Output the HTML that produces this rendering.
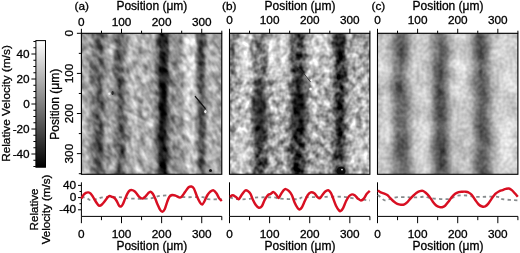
<!DOCTYPE html><html><head><meta charset="utf-8"><style>html,body{margin:0;padding:0;background:#fff;width:520px;height:253px;overflow:hidden}svg{display:block}text{fill:#000;stroke:#000;stroke-width:0.3px}</style></head><body><svg width="520" height="253" viewBox="0 0 520 253"><defs><linearGradient id="cb" x1="0" y1="0" x2="0" y2="1"><stop offset="0" stop-color="#fff"/><stop offset="1" stop-color="#000"/></linearGradient><linearGradient id="pt0" gradientUnits="userSpaceOnUse" x1="81.40" y1="0" x2="221.80" y2="0"><stop offset="0.0000" stop-color="#a1a1a1"/><stop offset="0.0071" stop-color="#a6a6a6"/><stop offset="0.0142" stop-color="#aaaaaa"/><stop offset="0.0214" stop-color="#ababab"/><stop offset="0.0285" stop-color="#a8a8a8"/><stop offset="0.0356" stop-color="#a4a4a4"/><stop offset="0.0427" stop-color="#a0a0a0"/><stop offset="0.0499" stop-color="#9b9b9b"/><stop offset="0.0570" stop-color="#949494"/><stop offset="0.0641" stop-color="#8e8e8e"/><stop offset="0.0712" stop-color="#878787"/><stop offset="0.0783" stop-color="#7f7f7f"/><stop offset="0.0855" stop-color="#777777"/><stop offset="0.0926" stop-color="#717171"/><stop offset="0.0997" stop-color="#6a6a6a"/><stop offset="0.1068" stop-color="#656565"/><stop offset="0.1140" stop-color="#626262"/><stop offset="0.1211" stop-color="#5f5f5f"/><stop offset="0.1282" stop-color="#5f5f5f"/><stop offset="0.1353" stop-color="#636363"/><stop offset="0.1425" stop-color="#686868"/><stop offset="0.1496" stop-color="#6f6f6f"/><stop offset="0.1567" stop-color="#7a7a7a"/><stop offset="0.1638" stop-color="#858585"/><stop offset="0.1709" stop-color="#8e8e8e"/><stop offset="0.1781" stop-color="#949494"/><stop offset="0.1852" stop-color="#9b9b9b"/><stop offset="0.1923" stop-color="#a1a1a1"/><stop offset="0.1994" stop-color="#a5a5a5"/><stop offset="0.2066" stop-color="#a8a8a8"/><stop offset="0.2137" stop-color="#a7a7a7"/><stop offset="0.2208" stop-color="#a1a1a1"/><stop offset="0.2279" stop-color="#9b9b9b"/><stop offset="0.2350" stop-color="#929292"/><stop offset="0.2422" stop-color="#818181"/><stop offset="0.2493" stop-color="#717171"/><stop offset="0.2564" stop-color="#616161"/><stop offset="0.2635" stop-color="#545454"/><stop offset="0.2707" stop-color="#484848"/><stop offset="0.2778" stop-color="#4c4c4c"/><stop offset="0.2849" stop-color="#525252"/><stop offset="0.2920" stop-color="#5e5e5e"/><stop offset="0.2991" stop-color="#717171"/><stop offset="0.3063" stop-color="#858585"/><stop offset="0.3134" stop-color="#959595"/><stop offset="0.3205" stop-color="#9e9e9e"/><stop offset="0.3276" stop-color="#a7a7a7"/><stop offset="0.3348" stop-color="#aeaeae"/><stop offset="0.3419" stop-color="#b6b6b6"/><stop offset="0.3490" stop-color="#b9b9b9"/><stop offset="0.3561" stop-color="#bababa"/><stop offset="0.3632" stop-color="#bababa"/><stop offset="0.3704" stop-color="#b9b9b9"/><stop offset="0.3775" stop-color="#b8b8b8"/><stop offset="0.3846" stop-color="#b6b6b6"/><stop offset="0.3917" stop-color="#b3b3b3"/><stop offset="0.3989" stop-color="#b1b1b1"/><stop offset="0.4060" stop-color="#aeaeae"/><stop offset="0.4131" stop-color="#acacac"/><stop offset="0.4202" stop-color="#aaaaaa"/><stop offset="0.4274" stop-color="#a9a9a9"/><stop offset="0.4345" stop-color="#a7a7a7"/><stop offset="0.4416" stop-color="#a8a8a8"/><stop offset="0.4487" stop-color="#a8a8a8"/><stop offset="0.4558" stop-color="#a9a9a9"/><stop offset="0.4630" stop-color="#ababab"/><stop offset="0.4701" stop-color="#adadad"/><stop offset="0.4772" stop-color="#aeaeae"/><stop offset="0.4843" stop-color="#afafaf"/><stop offset="0.4915" stop-color="#b0b0b0"/><stop offset="0.4986" stop-color="#adadad"/><stop offset="0.5057" stop-color="#ababab"/><stop offset="0.5128" stop-color="#a7a7a7"/><stop offset="0.5199" stop-color="#9d9d9d"/><stop offset="0.5271" stop-color="#8b8b8b"/><stop offset="0.5342" stop-color="#787878"/><stop offset="0.5413" stop-color="#666666"/><stop offset="0.5484" stop-color="#515151"/><stop offset="0.5556" stop-color="#383838"/><stop offset="0.5627" stop-color="#1f1f1f"/><stop offset="0.5698" stop-color="#1a1a1a"/><stop offset="0.5769" stop-color="#171717"/><stop offset="0.5840" stop-color="#171717"/><stop offset="0.5912" stop-color="#181818"/><stop offset="0.5983" stop-color="#242424"/><stop offset="0.6054" stop-color="#333333"/><stop offset="0.6125" stop-color="#484848"/><stop offset="0.6197" stop-color="#666666"/><stop offset="0.6268" stop-color="#848484"/><stop offset="0.6339" stop-color="#898989"/><stop offset="0.6410" stop-color="#8c8c8c"/><stop offset="0.6481" stop-color="#8e8e8e"/><stop offset="0.6553" stop-color="#8f8f8f"/><stop offset="0.6624" stop-color="#909090"/><stop offset="0.6695" stop-color="#929292"/><stop offset="0.6766" stop-color="#929292"/><stop offset="0.6838" stop-color="#939393"/><stop offset="0.6909" stop-color="#949494"/><stop offset="0.6980" stop-color="#959595"/><stop offset="0.7051" stop-color="#989898"/><stop offset="0.7123" stop-color="#9e9e9e"/><stop offset="0.7194" stop-color="#aeaeae"/><stop offset="0.7265" stop-color="#bdbdbd"/><stop offset="0.7336" stop-color="#c8c8c8"/><stop offset="0.7407" stop-color="#cecece"/><stop offset="0.7479" stop-color="#d3d3d3"/><stop offset="0.7550" stop-color="#d8d8d8"/><stop offset="0.7621" stop-color="#dedede"/><stop offset="0.7692" stop-color="#e0e0e0"/><stop offset="0.7764" stop-color="#dedede"/><stop offset="0.7835" stop-color="#dddddd"/><stop offset="0.7906" stop-color="#dadada"/><stop offset="0.7977" stop-color="#d6d6d6"/><stop offset="0.8048" stop-color="#c8c8c8"/><stop offset="0.8120" stop-color="#acacac"/><stop offset="0.8191" stop-color="#919191"/><stop offset="0.8262" stop-color="#7a7a7a"/><stop offset="0.8333" stop-color="#636363"/><stop offset="0.8405" stop-color="#535353"/><stop offset="0.8476" stop-color="#4c4c4c"/><stop offset="0.8547" stop-color="#4c4c4c"/><stop offset="0.8618" stop-color="#535353"/><stop offset="0.8689" stop-color="#5f5f5f"/><stop offset="0.8761" stop-color="#727272"/><stop offset="0.8832" stop-color="#878787"/><stop offset="0.8903" stop-color="#969696"/><stop offset="0.8974" stop-color="#9d9d9d"/><stop offset="0.9046" stop-color="#a2a2a2"/><stop offset="0.9117" stop-color="#a8a8a8"/><stop offset="0.9188" stop-color="#adadad"/><stop offset="0.9259" stop-color="#b1b1b1"/><stop offset="0.9330" stop-color="#b3b3b3"/><stop offset="0.9402" stop-color="#b4b4b4"/><stop offset="0.9473" stop-color="#b2b2b2"/><stop offset="0.9544" stop-color="#afafaf"/><stop offset="0.9615" stop-color="#acacac"/><stop offset="0.9687" stop-color="#a8a8a8"/><stop offset="0.9758" stop-color="#a4a4a4"/><stop offset="0.9829" stop-color="#a0a0a0"/><stop offset="0.9900" stop-color="#9e9e9e"/><stop offset="0.9972" stop-color="#9b9b9b"/></linearGradient><linearGradient id="pb0" gradientUnits="userSpaceOnUse" x1="81.40" y1="0" x2="221.80" y2="0"><stop offset="0.0000" stop-color="#a1a1a1"/><stop offset="0.0071" stop-color="#a7a7a7"/><stop offset="0.0142" stop-color="#acacac"/><stop offset="0.0214" stop-color="#b0b0b0"/><stop offset="0.0285" stop-color="#b1b1b1"/><stop offset="0.0356" stop-color="#acacac"/><stop offset="0.0427" stop-color="#a7a7a7"/><stop offset="0.0499" stop-color="#a1a1a1"/><stop offset="0.0570" stop-color="#9a9a9a"/><stop offset="0.0641" stop-color="#929292"/><stop offset="0.0712" stop-color="#898989"/><stop offset="0.0783" stop-color="#828282"/><stop offset="0.0855" stop-color="#797979"/><stop offset="0.0926" stop-color="#717171"/><stop offset="0.0997" stop-color="#6b6b6b"/><stop offset="0.1068" stop-color="#646464"/><stop offset="0.1140" stop-color="#5f5f5f"/><stop offset="0.1211" stop-color="#5d5d5d"/><stop offset="0.1282" stop-color="#5b5b5b"/><stop offset="0.1353" stop-color="#5d5d5d"/><stop offset="0.1425" stop-color="#626262"/><stop offset="0.1496" stop-color="#696969"/><stop offset="0.1567" stop-color="#727272"/><stop offset="0.1638" stop-color="#7d7d7d"/><stop offset="0.1709" stop-color="#898989"/><stop offset="0.1781" stop-color="#939393"/><stop offset="0.1852" stop-color="#999999"/><stop offset="0.1923" stop-color="#9f9f9f"/><stop offset="0.1994" stop-color="#a3a3a3"/><stop offset="0.2066" stop-color="#a4a4a4"/><stop offset="0.2137" stop-color="#a4a4a4"/><stop offset="0.2208" stop-color="#a2a2a2"/><stop offset="0.2279" stop-color="#9c9c9c"/><stop offset="0.2350" stop-color="#959595"/><stop offset="0.2422" stop-color="#8c8c8c"/><stop offset="0.2493" stop-color="#818181"/><stop offset="0.2564" stop-color="#707070"/><stop offset="0.2635" stop-color="#5e5e5e"/><stop offset="0.2707" stop-color="#515151"/><stop offset="0.2778" stop-color="#4b4b4b"/><stop offset="0.2849" stop-color="#484848"/><stop offset="0.2920" stop-color="#505050"/><stop offset="0.2991" stop-color="#5c5c5c"/><stop offset="0.3063" stop-color="#6b6b6b"/><stop offset="0.3134" stop-color="#7f7f7f"/><stop offset="0.3205" stop-color="#929292"/><stop offset="0.3276" stop-color="#a1a1a1"/><stop offset="0.3348" stop-color="#a6a6a6"/><stop offset="0.3419" stop-color="#ababab"/><stop offset="0.3490" stop-color="#afafaf"/><stop offset="0.3561" stop-color="#b1b1b1"/><stop offset="0.3632" stop-color="#b4b4b4"/><stop offset="0.3704" stop-color="#b5b5b5"/><stop offset="0.3775" stop-color="#b6b6b6"/><stop offset="0.3846" stop-color="#b5b5b5"/><stop offset="0.3917" stop-color="#b3b3b3"/><stop offset="0.3989" stop-color="#b0b0b0"/><stop offset="0.4060" stop-color="#acacac"/><stop offset="0.4131" stop-color="#aaaaaa"/><stop offset="0.4202" stop-color="#a8a8a8"/><stop offset="0.4274" stop-color="#a6a6a6"/><stop offset="0.4345" stop-color="#a5a5a5"/><stop offset="0.4416" stop-color="#a6a6a6"/><stop offset="0.4487" stop-color="#a6a6a6"/><stop offset="0.4558" stop-color="#a8a8a8"/><stop offset="0.4630" stop-color="#aaaaaa"/><stop offset="0.4701" stop-color="#adadad"/><stop offset="0.4772" stop-color="#afafaf"/><stop offset="0.4843" stop-color="#b1b1b1"/><stop offset="0.4915" stop-color="#b2b2b2"/><stop offset="0.4986" stop-color="#b1b1b1"/><stop offset="0.5057" stop-color="#acacac"/><stop offset="0.5128" stop-color="#a1a1a1"/><stop offset="0.5199" stop-color="#949494"/><stop offset="0.5271" stop-color="#888888"/><stop offset="0.5342" stop-color="#7b7b7b"/><stop offset="0.5413" stop-color="#6e6e6e"/><stop offset="0.5484" stop-color="#525252"/><stop offset="0.5556" stop-color="#363636"/><stop offset="0.5627" stop-color="#2a2a2a"/><stop offset="0.5698" stop-color="#222222"/><stop offset="0.5769" stop-color="#1a1a1a"/><stop offset="0.5840" stop-color="#1d1d1d"/><stop offset="0.5912" stop-color="#202020"/><stop offset="0.5983" stop-color="#262626"/><stop offset="0.6054" stop-color="#383838"/><stop offset="0.6125" stop-color="#4a4a4a"/><stop offset="0.6197" stop-color="#5b5b5b"/><stop offset="0.6268" stop-color="#6f6f6f"/><stop offset="0.6339" stop-color="#7f7f7f"/><stop offset="0.6410" stop-color="#909090"/><stop offset="0.6481" stop-color="#939393"/><stop offset="0.6553" stop-color="#949494"/><stop offset="0.6624" stop-color="#959595"/><stop offset="0.6695" stop-color="#969696"/><stop offset="0.6766" stop-color="#979797"/><stop offset="0.6838" stop-color="#979797"/><stop offset="0.6909" stop-color="#989898"/><stop offset="0.6980" stop-color="#999999"/><stop offset="0.7051" stop-color="#9c9c9c"/><stop offset="0.7123" stop-color="#9e9e9e"/><stop offset="0.7194" stop-color="#a2a2a2"/><stop offset="0.7265" stop-color="#a8a8a8"/><stop offset="0.7336" stop-color="#aeaeae"/><stop offset="0.7407" stop-color="#b5b5b5"/><stop offset="0.7479" stop-color="#bbbbbb"/><stop offset="0.7550" stop-color="#c2c2c2"/><stop offset="0.7621" stop-color="#c6c6c6"/><stop offset="0.7692" stop-color="#c7c7c7"/><stop offset="0.7764" stop-color="#c6c6c6"/><stop offset="0.7835" stop-color="#c6c6c6"/><stop offset="0.7906" stop-color="#c4c4c4"/><stop offset="0.7977" stop-color="#bebebe"/><stop offset="0.8048" stop-color="#b1b1b1"/><stop offset="0.8120" stop-color="#a3a3a3"/><stop offset="0.8191" stop-color="#949494"/><stop offset="0.8262" stop-color="#858585"/><stop offset="0.8333" stop-color="#747474"/><stop offset="0.8405" stop-color="#636363"/><stop offset="0.8476" stop-color="#585858"/><stop offset="0.8547" stop-color="#535353"/><stop offset="0.8618" stop-color="#505050"/><stop offset="0.8689" stop-color="#565656"/><stop offset="0.8761" stop-color="#666666"/><stop offset="0.8832" stop-color="#767676"/><stop offset="0.8903" stop-color="#858585"/><stop offset="0.8974" stop-color="#929292"/><stop offset="0.9046" stop-color="#9d9d9d"/><stop offset="0.9117" stop-color="#a8a8a8"/><stop offset="0.9188" stop-color="#b0b0b0"/><stop offset="0.9259" stop-color="#b1b1b1"/><stop offset="0.9330" stop-color="#b3b3b3"/><stop offset="0.9402" stop-color="#b4b4b4"/><stop offset="0.9473" stop-color="#b3b3b3"/><stop offset="0.9544" stop-color="#b1b1b1"/><stop offset="0.9615" stop-color="#afafaf"/><stop offset="0.9687" stop-color="#ababab"/><stop offset="0.9758" stop-color="#a7a7a7"/><stop offset="0.9829" stop-color="#a3a3a3"/><stop offset="0.9900" stop-color="#a0a0a0"/><stop offset="0.9972" stop-color="#9d9d9d"/></linearGradient><clipPath id="cp0"><rect x="81.40" y="33.30" width="140.40" height="141.00"/></clipPath><linearGradient id="pt1" gradientUnits="userSpaceOnUse" x1="229.50" y1="0" x2="369.90" y2="0"><stop offset="0.0000" stop-color="#838383"/><stop offset="0.0071" stop-color="#7b7b7b"/><stop offset="0.0142" stop-color="#7a7a7a"/><stop offset="0.0214" stop-color="#7f7f7f"/><stop offset="0.0285" stop-color="#878787"/><stop offset="0.0356" stop-color="#929292"/><stop offset="0.0427" stop-color="#9d9d9d"/><stop offset="0.0499" stop-color="#a6a6a6"/><stop offset="0.0570" stop-color="#aeaeae"/><stop offset="0.0641" stop-color="#b6b6b6"/><stop offset="0.0712" stop-color="#bebebe"/><stop offset="0.0783" stop-color="#c2c2c2"/><stop offset="0.0855" stop-color="#c6c6c6"/><stop offset="0.0926" stop-color="#cbcbcb"/><stop offset="0.0997" stop-color="#cdcdcd"/><stop offset="0.1068" stop-color="#cecece"/><stop offset="0.1140" stop-color="#cecece"/><stop offset="0.1211" stop-color="#cdcdcd"/><stop offset="0.1282" stop-color="#cacaca"/><stop offset="0.1353" stop-color="#c5c5c5"/><stop offset="0.1425" stop-color="#c0c0c0"/><stop offset="0.1496" stop-color="#bababa"/><stop offset="0.1567" stop-color="#afafaf"/><stop offset="0.1638" stop-color="#a0a0a0"/><stop offset="0.1709" stop-color="#949494"/><stop offset="0.1781" stop-color="#898989"/><stop offset="0.1852" stop-color="#7e7e7e"/><stop offset="0.1923" stop-color="#777777"/><stop offset="0.1994" stop-color="#717171"/><stop offset="0.2066" stop-color="#6d6d6d"/><stop offset="0.2137" stop-color="#6d6d6d"/><stop offset="0.2208" stop-color="#6e6e6e"/><stop offset="0.2279" stop-color="#717171"/><stop offset="0.2350" stop-color="#787878"/><stop offset="0.2422" stop-color="#808080"/><stop offset="0.2493" stop-color="#8a8a8a"/><stop offset="0.2564" stop-color="#969696"/><stop offset="0.2635" stop-color="#a2a2a2"/><stop offset="0.2707" stop-color="#acacac"/><stop offset="0.2778" stop-color="#b4b4b4"/><stop offset="0.2849" stop-color="#bbbbbb"/><stop offset="0.2920" stop-color="#c0c0c0"/><stop offset="0.2991" stop-color="#c3c3c3"/><stop offset="0.3063" stop-color="#c6c6c6"/><stop offset="0.3134" stop-color="#c8c8c8"/><stop offset="0.3205" stop-color="#c8c8c8"/><stop offset="0.3276" stop-color="#c8c8c8"/><stop offset="0.3348" stop-color="#c7c7c7"/><stop offset="0.3419" stop-color="#c4c4c4"/><stop offset="0.3490" stop-color="#c2c2c2"/><stop offset="0.3561" stop-color="#c3c3c3"/><stop offset="0.3632" stop-color="#c6c6c6"/><stop offset="0.3704" stop-color="#c8c8c8"/><stop offset="0.3775" stop-color="#cacaca"/><stop offset="0.3846" stop-color="#cacaca"/><stop offset="0.3917" stop-color="#c7c7c7"/><stop offset="0.3989" stop-color="#c5c5c5"/><stop offset="0.4060" stop-color="#c0c0c0"/><stop offset="0.4131" stop-color="#b6b6b6"/><stop offset="0.4202" stop-color="#a5a5a5"/><stop offset="0.4274" stop-color="#939393"/><stop offset="0.4345" stop-color="#818181"/><stop offset="0.4416" stop-color="#6e6e6e"/><stop offset="0.4487" stop-color="#5f5f5f"/><stop offset="0.4558" stop-color="#545454"/><stop offset="0.4630" stop-color="#494949"/><stop offset="0.4701" stop-color="#424242"/><stop offset="0.4772" stop-color="#3e3e3e"/><stop offset="0.4843" stop-color="#3a3a3a"/><stop offset="0.4915" stop-color="#383838"/><stop offset="0.4986" stop-color="#373737"/><stop offset="0.5057" stop-color="#3b3b3b"/><stop offset="0.5128" stop-color="#404040"/><stop offset="0.5199" stop-color="#4b4b4b"/><stop offset="0.5271" stop-color="#5d5d5d"/><stop offset="0.5342" stop-color="#707070"/><stop offset="0.5413" stop-color="#818181"/><stop offset="0.5484" stop-color="#919191"/><stop offset="0.5556" stop-color="#a1a1a1"/><stop offset="0.5627" stop-color="#b0b0b0"/><stop offset="0.5698" stop-color="#b9b9b9"/><stop offset="0.5769" stop-color="#bdbdbd"/><stop offset="0.5840" stop-color="#bfbfbf"/><stop offset="0.5912" stop-color="#c0c0c0"/><stop offset="0.5983" stop-color="#c2c2c2"/><stop offset="0.6054" stop-color="#c3c3c3"/><stop offset="0.6125" stop-color="#c2c2c2"/><stop offset="0.6197" stop-color="#bfbfbf"/><stop offset="0.6268" stop-color="#bdbdbd"/><stop offset="0.6339" stop-color="#bcbcbc"/><stop offset="0.6410" stop-color="#bababa"/><stop offset="0.6481" stop-color="#bbbbbb"/><stop offset="0.6553" stop-color="#bcbcbc"/><stop offset="0.6624" stop-color="#bdbdbd"/><stop offset="0.6695" stop-color="#bebebe"/><stop offset="0.6766" stop-color="#bfbfbf"/><stop offset="0.6838" stop-color="#bfbfbf"/><stop offset="0.6909" stop-color="#bebebe"/><stop offset="0.6980" stop-color="#bebebe"/><stop offset="0.7051" stop-color="#bbbbbb"/><stop offset="0.7123" stop-color="#b4b4b4"/><stop offset="0.7194" stop-color="#adadad"/><stop offset="0.7265" stop-color="#a5a5a5"/><stop offset="0.7336" stop-color="#969696"/><stop offset="0.7407" stop-color="#808080"/><stop offset="0.7479" stop-color="#6a6a6a"/><stop offset="0.7550" stop-color="#555555"/><stop offset="0.7621" stop-color="#404040"/><stop offset="0.7692" stop-color="#323232"/><stop offset="0.7764" stop-color="#2a2a2a"/><stop offset="0.7835" stop-color="#232323"/><stop offset="0.7906" stop-color="#212121"/><stop offset="0.7977" stop-color="#252525"/><stop offset="0.8048" stop-color="#2a2a2a"/><stop offset="0.8120" stop-color="#373737"/><stop offset="0.8191" stop-color="#4c4c4c"/><stop offset="0.8262" stop-color="#626262"/><stop offset="0.8333" stop-color="#757575"/><stop offset="0.8405" stop-color="#888888"/><stop offset="0.8476" stop-color="#9a9a9a"/><stop offset="0.8547" stop-color="#a6a6a6"/><stop offset="0.8618" stop-color="#aaaaaa"/><stop offset="0.8689" stop-color="#afafaf"/><stop offset="0.8761" stop-color="#b2b2b2"/><stop offset="0.8832" stop-color="#b5b5b5"/><stop offset="0.8903" stop-color="#b7b7b7"/><stop offset="0.8974" stop-color="#b8b8b8"/><stop offset="0.9046" stop-color="#b5b5b5"/><stop offset="0.9117" stop-color="#b3b3b3"/><stop offset="0.9188" stop-color="#b1b1b1"/><stop offset="0.9259" stop-color="#b0b0b0"/><stop offset="0.9330" stop-color="#aeaeae"/><stop offset="0.9402" stop-color="#aeaeae"/><stop offset="0.9473" stop-color="#acacac"/><stop offset="0.9544" stop-color="#a7a7a7"/><stop offset="0.9615" stop-color="#a3a3a3"/><stop offset="0.9687" stop-color="#9f9f9f"/><stop offset="0.9758" stop-color="#9d9d9d"/><stop offset="0.9829" stop-color="#9b9b9b"/><stop offset="0.9900" stop-color="#989898"/><stop offset="0.9972" stop-color="#969696"/></linearGradient><linearGradient id="pb1" gradientUnits="userSpaceOnUse" x1="229.50" y1="0" x2="369.90" y2="0"><stop offset="0.0000" stop-color="#a7a7a7"/><stop offset="0.0071" stop-color="#aaaaaa"/><stop offset="0.0142" stop-color="#aeaeae"/><stop offset="0.0214" stop-color="#b2b2b2"/><stop offset="0.0285" stop-color="#b4b4b4"/><stop offset="0.0356" stop-color="#b6b6b6"/><stop offset="0.0427" stop-color="#b8b8b8"/><stop offset="0.0499" stop-color="#bababa"/><stop offset="0.0570" stop-color="#bbbbbb"/><stop offset="0.0641" stop-color="#bbbbbb"/><stop offset="0.0712" stop-color="#bcbcbc"/><stop offset="0.0783" stop-color="#bebebe"/><stop offset="0.0855" stop-color="#bfbfbf"/><stop offset="0.0926" stop-color="#c1c1c1"/><stop offset="0.0997" stop-color="#c2c2c2"/><stop offset="0.1068" stop-color="#c2c2c2"/><stop offset="0.1140" stop-color="#c1c1c1"/><stop offset="0.1211" stop-color="#bfbfbf"/><stop offset="0.1282" stop-color="#bcbcbc"/><stop offset="0.1353" stop-color="#b8b8b8"/><stop offset="0.1425" stop-color="#b0b0b0"/><stop offset="0.1496" stop-color="#a2a2a2"/><stop offset="0.1567" stop-color="#929292"/><stop offset="0.1638" stop-color="#828282"/><stop offset="0.1709" stop-color="#727272"/><stop offset="0.1781" stop-color="#636363"/><stop offset="0.1852" stop-color="#575757"/><stop offset="0.1923" stop-color="#505050"/><stop offset="0.1994" stop-color="#494949"/><stop offset="0.2066" stop-color="#454545"/><stop offset="0.2137" stop-color="#444444"/><stop offset="0.2208" stop-color="#444444"/><stop offset="0.2279" stop-color="#464646"/><stop offset="0.2350" stop-color="#4d4d4d"/><stop offset="0.2422" stop-color="#545454"/><stop offset="0.2493" stop-color="#5d5d5d"/><stop offset="0.2564" stop-color="#686868"/><stop offset="0.2635" stop-color="#727272"/><stop offset="0.2707" stop-color="#7e7e7e"/><stop offset="0.2778" stop-color="#8a8a8a"/><stop offset="0.2849" stop-color="#959595"/><stop offset="0.2920" stop-color="#9d9d9d"/><stop offset="0.2991" stop-color="#a0a0a0"/><stop offset="0.3063" stop-color="#a2a2a2"/><stop offset="0.3134" stop-color="#a5a5a5"/><stop offset="0.3205" stop-color="#a6a6a6"/><stop offset="0.3276" stop-color="#a6a6a6"/><stop offset="0.3348" stop-color="#a6a6a6"/><stop offset="0.3419" stop-color="#a3a3a3"/><stop offset="0.3490" stop-color="#a1a1a1"/><stop offset="0.3561" stop-color="#a2a2a2"/><stop offset="0.3632" stop-color="#a5a5a5"/><stop offset="0.3704" stop-color="#a7a7a7"/><stop offset="0.3775" stop-color="#aaaaaa"/><stop offset="0.3846" stop-color="#aaaaaa"/><stop offset="0.3917" stop-color="#a6a6a6"/><stop offset="0.3989" stop-color="#a2a2a2"/><stop offset="0.4060" stop-color="#989898"/><stop offset="0.4131" stop-color="#8a8a8a"/><stop offset="0.4202" stop-color="#7b7b7b"/><stop offset="0.4274" stop-color="#6e6e6e"/><stop offset="0.4345" stop-color="#616161"/><stop offset="0.4416" stop-color="#545454"/><stop offset="0.4487" stop-color="#484848"/><stop offset="0.4558" stop-color="#3f3f3f"/><stop offset="0.4630" stop-color="#363636"/><stop offset="0.4701" stop-color="#303030"/><stop offset="0.4772" stop-color="#2d2d2d"/><stop offset="0.4843" stop-color="#2a2a2a"/><stop offset="0.4915" stop-color="#292929"/><stop offset="0.4986" stop-color="#2a2a2a"/><stop offset="0.5057" stop-color="#303030"/><stop offset="0.5128" stop-color="#363636"/><stop offset="0.5199" stop-color="#434343"/><stop offset="0.5271" stop-color="#555555"/><stop offset="0.5342" stop-color="#686868"/><stop offset="0.5413" stop-color="#767676"/><stop offset="0.5484" stop-color="#808080"/><stop offset="0.5556" stop-color="#8b8b8b"/><stop offset="0.5627" stop-color="#949494"/><stop offset="0.5698" stop-color="#9d9d9d"/><stop offset="0.5769" stop-color="#a2a2a2"/><stop offset="0.5840" stop-color="#a2a2a2"/><stop offset="0.5912" stop-color="#a2a2a2"/><stop offset="0.5983" stop-color="#a3a3a3"/><stop offset="0.6054" stop-color="#a2a2a2"/><stop offset="0.6125" stop-color="#a1a1a1"/><stop offset="0.6197" stop-color="#9f9f9f"/><stop offset="0.6268" stop-color="#9e9e9e"/><stop offset="0.6339" stop-color="#9d9d9d"/><stop offset="0.6410" stop-color="#9c9c9c"/><stop offset="0.6481" stop-color="#9c9c9c"/><stop offset="0.6553" stop-color="#9e9e9e"/><stop offset="0.6624" stop-color="#a0a0a0"/><stop offset="0.6695" stop-color="#a1a1a1"/><stop offset="0.6766" stop-color="#a3a3a3"/><stop offset="0.6838" stop-color="#a4a4a4"/><stop offset="0.6909" stop-color="#a3a3a3"/><stop offset="0.6980" stop-color="#a1a1a1"/><stop offset="0.7051" stop-color="#9f9f9f"/><stop offset="0.7123" stop-color="#9b9b9b"/><stop offset="0.7194" stop-color="#979797"/><stop offset="0.7265" stop-color="#8e8e8e"/><stop offset="0.7336" stop-color="#818181"/><stop offset="0.7407" stop-color="#737373"/><stop offset="0.7479" stop-color="#656565"/><stop offset="0.7550" stop-color="#565656"/><stop offset="0.7621" stop-color="#474747"/><stop offset="0.7692" stop-color="#404040"/><stop offset="0.7764" stop-color="#383838"/><stop offset="0.7835" stop-color="#353535"/><stop offset="0.7906" stop-color="#363636"/><stop offset="0.7977" stop-color="#393939"/><stop offset="0.8048" stop-color="#464646"/><stop offset="0.8120" stop-color="#545454"/><stop offset="0.8191" stop-color="#666666"/><stop offset="0.8262" stop-color="#7a7a7a"/><stop offset="0.8333" stop-color="#8d8d8d"/><stop offset="0.8405" stop-color="#989898"/><stop offset="0.8476" stop-color="#a2a2a2"/><stop offset="0.8547" stop-color="#acacac"/><stop offset="0.8618" stop-color="#b2b2b2"/><stop offset="0.8689" stop-color="#b5b5b5"/><stop offset="0.8761" stop-color="#b7b7b7"/><stop offset="0.8832" stop-color="#b9b9b9"/><stop offset="0.8903" stop-color="#bababa"/><stop offset="0.8974" stop-color="#bbbbbb"/><stop offset="0.9046" stop-color="#bababa"/><stop offset="0.9117" stop-color="#b9b9b9"/><stop offset="0.9188" stop-color="#b9b9b9"/><stop offset="0.9259" stop-color="#b8b8b8"/><stop offset="0.9330" stop-color="#b8b8b8"/><stop offset="0.9402" stop-color="#b9b9b9"/><stop offset="0.9473" stop-color="#bababa"/><stop offset="0.9544" stop-color="#bbbbbb"/><stop offset="0.9615" stop-color="#bcbcbc"/><stop offset="0.9687" stop-color="#bebebe"/><stop offset="0.9758" stop-color="#bfbfbf"/><stop offset="0.9829" stop-color="#c0c0c0"/><stop offset="0.9900" stop-color="#c0c0c0"/><stop offset="0.9972" stop-color="#c1c1c1"/></linearGradient><clipPath id="cp1"><rect x="229.50" y="33.30" width="140.40" height="141.00"/></clipPath><linearGradient id="pt2" gradientUnits="userSpaceOnUse" x1="377.50" y1="0" x2="517.90" y2="0"><stop offset="0.0000" stop-color="#cccccc"/><stop offset="0.0071" stop-color="#cccccc"/><stop offset="0.0142" stop-color="#cccccc"/><stop offset="0.0214" stop-color="#cbcbcb"/><stop offset="0.0285" stop-color="#cbcbcb"/><stop offset="0.0356" stop-color="#cbcbcb"/><stop offset="0.0427" stop-color="#cbcbcb"/><stop offset="0.0499" stop-color="#cbcbcb"/><stop offset="0.0570" stop-color="#c8c8c8"/><stop offset="0.0641" stop-color="#c4c4c4"/><stop offset="0.0712" stop-color="#bfbfbf"/><stop offset="0.0783" stop-color="#bababa"/><stop offset="0.0855" stop-color="#b6b6b6"/><stop offset="0.0926" stop-color="#aeaeae"/><stop offset="0.0997" stop-color="#a4a4a4"/><stop offset="0.1068" stop-color="#999999"/><stop offset="0.1140" stop-color="#8f8f8f"/><stop offset="0.1211" stop-color="#868686"/><stop offset="0.1282" stop-color="#7e7e7e"/><stop offset="0.1353" stop-color="#767676"/><stop offset="0.1425" stop-color="#6e6e6e"/><stop offset="0.1496" stop-color="#696969"/><stop offset="0.1567" stop-color="#656565"/><stop offset="0.1638" stop-color="#626262"/><stop offset="0.1709" stop-color="#626262"/><stop offset="0.1781" stop-color="#656565"/><stop offset="0.1852" stop-color="#696969"/><stop offset="0.1923" stop-color="#6f6f6f"/><stop offset="0.1994" stop-color="#7a7a7a"/><stop offset="0.2066" stop-color="#848484"/><stop offset="0.2137" stop-color="#8e8e8e"/><stop offset="0.2208" stop-color="#989898"/><stop offset="0.2279" stop-color="#a2a2a2"/><stop offset="0.2350" stop-color="#ababab"/><stop offset="0.2422" stop-color="#b5b5b5"/><stop offset="0.2493" stop-color="#bebebe"/><stop offset="0.2564" stop-color="#c4c4c4"/><stop offset="0.2635" stop-color="#c6c6c6"/><stop offset="0.2707" stop-color="#c8c8c8"/><stop offset="0.2778" stop-color="#cacaca"/><stop offset="0.2849" stop-color="#cccccc"/><stop offset="0.2920" stop-color="#cecece"/><stop offset="0.2991" stop-color="#d0d0d0"/><stop offset="0.3063" stop-color="#d0d0d0"/><stop offset="0.3134" stop-color="#cfcfcf"/><stop offset="0.3205" stop-color="#cecece"/><stop offset="0.3276" stop-color="#cdcdcd"/><stop offset="0.3348" stop-color="#cccccc"/><stop offset="0.3419" stop-color="#cbcbcb"/><stop offset="0.3490" stop-color="#c9c9c9"/><stop offset="0.3561" stop-color="#c5c5c5"/><stop offset="0.3632" stop-color="#bebebe"/><stop offset="0.3704" stop-color="#b7b7b7"/><stop offset="0.3775" stop-color="#b0b0b0"/><stop offset="0.3846" stop-color="#a6a6a6"/><stop offset="0.3917" stop-color="#999999"/><stop offset="0.3989" stop-color="#8d8d8d"/><stop offset="0.4060" stop-color="#818181"/><stop offset="0.4131" stop-color="#777777"/><stop offset="0.4202" stop-color="#707070"/><stop offset="0.4274" stop-color="#696969"/><stop offset="0.4345" stop-color="#626262"/><stop offset="0.4416" stop-color="#5f5f5f"/><stop offset="0.4487" stop-color="#606060"/><stop offset="0.4558" stop-color="#616161"/><stop offset="0.4630" stop-color="#656565"/><stop offset="0.4701" stop-color="#6c6c6c"/><stop offset="0.4772" stop-color="#747474"/><stop offset="0.4843" stop-color="#7b7b7b"/><stop offset="0.4915" stop-color="#858585"/><stop offset="0.4986" stop-color="#919191"/><stop offset="0.5057" stop-color="#9d9d9d"/><stop offset="0.5128" stop-color="#a9a9a9"/><stop offset="0.5199" stop-color="#b1b1b1"/><stop offset="0.5271" stop-color="#b6b6b6"/><stop offset="0.5342" stop-color="#bbbbbb"/><stop offset="0.5413" stop-color="#c0c0c0"/><stop offset="0.5484" stop-color="#c5c5c5"/><stop offset="0.5556" stop-color="#cacaca"/><stop offset="0.5627" stop-color="#cccccc"/><stop offset="0.5698" stop-color="#cccccc"/><stop offset="0.5769" stop-color="#cdcdcd"/><stop offset="0.5840" stop-color="#cdcdcd"/><stop offset="0.5912" stop-color="#cdcdcd"/><stop offset="0.5983" stop-color="#cecece"/><stop offset="0.6054" stop-color="#cecece"/><stop offset="0.6125" stop-color="#cecece"/><stop offset="0.6197" stop-color="#cecece"/><stop offset="0.6268" stop-color="#cccccc"/><stop offset="0.6339" stop-color="#c9c9c9"/><stop offset="0.6410" stop-color="#c5c5c5"/><stop offset="0.6481" stop-color="#c1c1c1"/><stop offset="0.6553" stop-color="#bdbdbd"/><stop offset="0.6624" stop-color="#b5b5b5"/><stop offset="0.6695" stop-color="#ababab"/><stop offset="0.6766" stop-color="#a0a0a0"/><stop offset="0.6838" stop-color="#959595"/><stop offset="0.6909" stop-color="#8b8b8b"/><stop offset="0.6980" stop-color="#818181"/><stop offset="0.7051" stop-color="#777777"/><stop offset="0.7123" stop-color="#6d6d6d"/><stop offset="0.7194" stop-color="#656565"/><stop offset="0.7265" stop-color="#606060"/><stop offset="0.7336" stop-color="#5b5b5b"/><stop offset="0.7407" stop-color="#5a5a5a"/><stop offset="0.7479" stop-color="#5d5d5d"/><stop offset="0.7550" stop-color="#606060"/><stop offset="0.7621" stop-color="#676767"/><stop offset="0.7692" stop-color="#727272"/><stop offset="0.7764" stop-color="#7d7d7d"/><stop offset="0.7835" stop-color="#888888"/><stop offset="0.7906" stop-color="#939393"/><stop offset="0.7977" stop-color="#9f9f9f"/><stop offset="0.8048" stop-color="#ababab"/><stop offset="0.8120" stop-color="#b7b7b7"/><stop offset="0.8191" stop-color="#bebebe"/><stop offset="0.8262" stop-color="#c1c1c1"/><stop offset="0.8333" stop-color="#c4c4c4"/><stop offset="0.8405" stop-color="#c7c7c7"/><stop offset="0.8476" stop-color="#c9c9c9"/><stop offset="0.8547" stop-color="#cccccc"/><stop offset="0.8618" stop-color="#cfcfcf"/><stop offset="0.8689" stop-color="#d1d1d1"/><stop offset="0.8761" stop-color="#d2d2d2"/><stop offset="0.8832" stop-color="#d3d3d3"/><stop offset="0.8903" stop-color="#d3d3d3"/><stop offset="0.8974" stop-color="#d3d3d3"/><stop offset="0.9046" stop-color="#d3d3d3"/><stop offset="0.9117" stop-color="#d3d3d3"/><stop offset="0.9188" stop-color="#d3d3d3"/><stop offset="0.9259" stop-color="#d3d3d3"/><stop offset="0.9330" stop-color="#d4d4d4"/><stop offset="0.9402" stop-color="#d3d3d3"/><stop offset="0.9473" stop-color="#d3d3d3"/><stop offset="0.9544" stop-color="#d2d2d2"/><stop offset="0.9615" stop-color="#d1d1d1"/><stop offset="0.9687" stop-color="#d0d0d0"/><stop offset="0.9758" stop-color="#d0d0d0"/><stop offset="0.9829" stop-color="#cfcfcf"/><stop offset="0.9900" stop-color="#cecece"/><stop offset="0.9972" stop-color="#cdcdcd"/></linearGradient><linearGradient id="pb2" gradientUnits="userSpaceOnUse" x1="377.50" y1="0" x2="517.90" y2="0"><stop offset="0.0000" stop-color="#cfcfcf"/><stop offset="0.0071" stop-color="#cecece"/><stop offset="0.0142" stop-color="#cecece"/><stop offset="0.0214" stop-color="#cecece"/><stop offset="0.0285" stop-color="#cdcdcd"/><stop offset="0.0356" stop-color="#cdcdcd"/><stop offset="0.0427" stop-color="#cccccc"/><stop offset="0.0499" stop-color="#cccccc"/><stop offset="0.0570" stop-color="#cccccc"/><stop offset="0.0641" stop-color="#c9c9c9"/><stop offset="0.0712" stop-color="#c4c4c4"/><stop offset="0.0783" stop-color="#bfbfbf"/><stop offset="0.0855" stop-color="#bababa"/><stop offset="0.0926" stop-color="#b1b1b1"/><stop offset="0.0997" stop-color="#a6a6a6"/><stop offset="0.1068" stop-color="#9b9b9b"/><stop offset="0.1140" stop-color="#8f8f8f"/><stop offset="0.1211" stop-color="#868686"/><stop offset="0.1282" stop-color="#7e7e7e"/><stop offset="0.1353" stop-color="#767676"/><stop offset="0.1425" stop-color="#6e6e6e"/><stop offset="0.1496" stop-color="#696969"/><stop offset="0.1567" stop-color="#666666"/><stop offset="0.1638" stop-color="#626262"/><stop offset="0.1709" stop-color="#5f5f5f"/><stop offset="0.1781" stop-color="#606060"/><stop offset="0.1852" stop-color="#646464"/><stop offset="0.1923" stop-color="#686868"/><stop offset="0.1994" stop-color="#6c6c6c"/><stop offset="0.2066" stop-color="#747474"/><stop offset="0.2137" stop-color="#808080"/><stop offset="0.2208" stop-color="#8c8c8c"/><stop offset="0.2279" stop-color="#989898"/><stop offset="0.2350" stop-color="#a2a2a2"/><stop offset="0.2422" stop-color="#aaaaaa"/><stop offset="0.2493" stop-color="#b2b2b2"/><stop offset="0.2564" stop-color="#bababa"/><stop offset="0.2635" stop-color="#c2c2c2"/><stop offset="0.2707" stop-color="#c6c6c6"/><stop offset="0.2778" stop-color="#c7c7c7"/><stop offset="0.2849" stop-color="#c7c7c7"/><stop offset="0.2920" stop-color="#c8c8c8"/><stop offset="0.2991" stop-color="#c8c8c8"/><stop offset="0.3063" stop-color="#c9c9c9"/><stop offset="0.3134" stop-color="#c9c9c9"/><stop offset="0.3205" stop-color="#c9c9c9"/><stop offset="0.3276" stop-color="#c9c9c9"/><stop offset="0.3348" stop-color="#c9c9c9"/><stop offset="0.3419" stop-color="#c7c7c7"/><stop offset="0.3490" stop-color="#c2c2c2"/><stop offset="0.3561" stop-color="#bebebe"/><stop offset="0.3632" stop-color="#b9b9b9"/><stop offset="0.3704" stop-color="#b4b4b4"/><stop offset="0.3775" stop-color="#ababab"/><stop offset="0.3846" stop-color="#9e9e9e"/><stop offset="0.3917" stop-color="#919191"/><stop offset="0.3989" stop-color="#848484"/><stop offset="0.4060" stop-color="#7a7a7a"/><stop offset="0.4131" stop-color="#717171"/><stop offset="0.4202" stop-color="#686868"/><stop offset="0.4274" stop-color="#606060"/><stop offset="0.4345" stop-color="#5b5b5b"/><stop offset="0.4416" stop-color="#585858"/><stop offset="0.4487" stop-color="#555555"/><stop offset="0.4558" stop-color="#555555"/><stop offset="0.4630" stop-color="#585858"/><stop offset="0.4701" stop-color="#5b5b5b"/><stop offset="0.4772" stop-color="#626262"/><stop offset="0.4843" stop-color="#6b6b6b"/><stop offset="0.4915" stop-color="#747474"/><stop offset="0.4986" stop-color="#7d7d7d"/><stop offset="0.5057" stop-color="#888888"/><stop offset="0.5128" stop-color="#969696"/><stop offset="0.5199" stop-color="#a3a3a3"/><stop offset="0.5271" stop-color="#b0b0b0"/><stop offset="0.5342" stop-color="#b8b8b8"/><stop offset="0.5413" stop-color="#bababa"/><stop offset="0.5484" stop-color="#bdbdbd"/><stop offset="0.5556" stop-color="#bfbfbf"/><stop offset="0.5627" stop-color="#c2c2c2"/><stop offset="0.5698" stop-color="#c4c4c4"/><stop offset="0.5769" stop-color="#c6c6c6"/><stop offset="0.5840" stop-color="#c8c8c8"/><stop offset="0.5912" stop-color="#c9c9c9"/><stop offset="0.5983" stop-color="#c9c9c9"/><stop offset="0.6054" stop-color="#c9c9c9"/><stop offset="0.6125" stop-color="#c8c8c8"/><stop offset="0.6197" stop-color="#c8c8c8"/><stop offset="0.6268" stop-color="#c8c8c8"/><stop offset="0.6339" stop-color="#c7c7c7"/><stop offset="0.6410" stop-color="#c7c7c7"/><stop offset="0.6481" stop-color="#c3c3c3"/><stop offset="0.6553" stop-color="#bbbbbb"/><stop offset="0.6624" stop-color="#b3b3b3"/><stop offset="0.6695" stop-color="#ababab"/><stop offset="0.6766" stop-color="#a2a2a2"/><stop offset="0.6838" stop-color="#979797"/><stop offset="0.6909" stop-color="#8c8c8c"/><stop offset="0.6980" stop-color="#818181"/><stop offset="0.7051" stop-color="#787878"/><stop offset="0.7123" stop-color="#717171"/><stop offset="0.7194" stop-color="#6a6a6a"/><stop offset="0.7265" stop-color="#646464"/><stop offset="0.7336" stop-color="#5f5f5f"/><stop offset="0.7407" stop-color="#5d5d5d"/><stop offset="0.7479" stop-color="#5b5b5b"/><stop offset="0.7550" stop-color="#5b5b5b"/><stop offset="0.7621" stop-color="#5e5e5e"/><stop offset="0.7692" stop-color="#616161"/><stop offset="0.7764" stop-color="#676767"/><stop offset="0.7835" stop-color="#717171"/><stop offset="0.7906" stop-color="#7b7b7b"/><stop offset="0.7977" stop-color="#858585"/><stop offset="0.8048" stop-color="#909090"/><stop offset="0.8120" stop-color="#9b9b9b"/><stop offset="0.8191" stop-color="#a7a7a7"/><stop offset="0.8262" stop-color="#b2b2b2"/><stop offset="0.8333" stop-color="#bababa"/><stop offset="0.8405" stop-color="#bebebe"/><stop offset="0.8476" stop-color="#c2c2c2"/><stop offset="0.8547" stop-color="#c5c5c5"/><stop offset="0.8618" stop-color="#c9c9c9"/><stop offset="0.8689" stop-color="#cdcdcd"/><stop offset="0.8761" stop-color="#cfcfcf"/><stop offset="0.8832" stop-color="#d0d0d0"/><stop offset="0.8903" stop-color="#d0d0d0"/><stop offset="0.8974" stop-color="#d0d0d0"/><stop offset="0.9046" stop-color="#d1d1d1"/><stop offset="0.9117" stop-color="#d2d2d2"/><stop offset="0.9188" stop-color="#d2d2d2"/><stop offset="0.9259" stop-color="#d2d2d2"/><stop offset="0.9330" stop-color="#d3d3d3"/><stop offset="0.9402" stop-color="#d3d3d3"/><stop offset="0.9473" stop-color="#d3d3d3"/><stop offset="0.9544" stop-color="#d3d3d3"/><stop offset="0.9615" stop-color="#d2d2d2"/><stop offset="0.9687" stop-color="#d2d2d2"/><stop offset="0.9758" stop-color="#d2d2d2"/><stop offset="0.9829" stop-color="#d1d1d1"/><stop offset="0.9900" stop-color="#d1d1d1"/><stop offset="0.9972" stop-color="#d0d0d0"/></linearGradient><clipPath id="cp2"><rect x="377.50" y="33.30" width="140.40" height="141.00"/></clipPath><linearGradient id="vm" gradientUnits="userSpaceOnUse" x1="0" y1="68" x2="0" y2="140"><stop offset="0" stop-color="#fff" stop-opacity="0"/><stop offset="1" stop-color="#fff" stop-opacity="1"/></linearGradient><mask id="mk" maskUnits="userSpaceOnUse" x="0" y="0" width="520" height="253"><rect x="0" y="0" width="520" height="253" fill="url(#vm)"/></mask><filter id="nf0" x="-0.3" y="-0.3" width="1.6" height="1.6" color-interpolation-filters="sRGB"><feTurbulence type="fractalNoise" baseFrequency="0.18 0.12" numOctaves="2" seed="4" result="t0"/><feColorMatrix in="t0" type="matrix" values="1 0 0 0 0  1 0 0 0 0  1 0 0 0 0  0 0 0 0 1" result="n0"/><feComposite in="SourceGraphic" in2="n0" operator="arithmetic" k1="0" k2="1" k3="0.750" k4="-0.375" result="c0"/></filter><filter id="nf1" x="-0.3" y="-0.3" width="1.6" height="1.6" color-interpolation-filters="sRGB"><feTurbulence type="fractalNoise" baseFrequency="0.16 0.15" numOctaves="2" seed="9" result="t0"/><feColorMatrix in="t0" type="matrix" values="1 0 0 0 0  1 0 0 0 0  1 0 0 0 0  0 0 0 0 1" result="n0"/><feComposite in="SourceGraphic" in2="n0" operator="arithmetic" k1="0" k2="1" k3="1.000" k4="-0.500" result="c0"/></filter><filter id="nf2" x="-0.3" y="-0.3" width="1.6" height="1.6" color-interpolation-filters="sRGB"><feTurbulence type="fractalNoise" baseFrequency="0.06 0.05" numOctaves="2" seed="5" result="t0"/><feColorMatrix in="t0" type="matrix" values="1 0 0 0 0  1 0 0 0 0  1 0 0 0 0  0 0 0 0 1" result="n0"/><feComposite in="SourceGraphic" in2="n0" operator="arithmetic" k1="0" k2="1" k3="0.350" k4="-0.175" result="c0"/><feTurbulence type="fractalNoise" baseFrequency="0.3 0.28" numOctaves="1" seed="11" result="t1"/><feColorMatrix in="t1" type="matrix" values="1 0 0 0 0  1 0 0 0 0  1 0 0 0 0  0 0 0 0 1" result="n1"/><feComposite in="c0" in2="n1" operator="arithmetic" k1="0" k2="1" k3="0.250" k4="-0.125" result="c1"/></filter><radialGradient id="bd"><stop offset="0" stop-color="#000" stop-opacity="1"/><stop offset="0.5" stop-color="#000" stop-opacity="0.6"/><stop offset="1" stop-color="#000" stop-opacity="0"/></radialGradient><radialGradient id="bl"><stop offset="0" stop-color="#fff" stop-opacity="1"/><stop offset="0.5" stop-color="#fff" stop-opacity="0.6"/><stop offset="1" stop-color="#fff" stop-opacity="0"/></radialGradient></defs><rect x="35.9" y="40.6" width="9.6" height="126.6" fill="url(#cb)" stroke="#000" stroke-width="1"/><path d="M33.40,166.50H35.9 M33.40,160.25H35.9 M31.40,154.00H35.9 M33.40,147.75H35.9 M33.40,141.50H35.9 M33.40,135.25H35.9 M31.40,129.00H35.9 M33.40,122.75H35.9 M33.40,116.50H35.9 M33.40,110.25H35.9 M31.40,104.00H35.9 M33.40,97.75H35.9 M33.40,91.50H35.9 M33.40,85.25H35.9 M31.40,79.00H35.9 M33.40,72.75H35.9 M33.40,66.50H35.9 M33.40,60.25H35.9 M31.40,54.00H35.9 M33.40,47.75H35.9 M33.40,41.50H35.9" stroke="#000" stroke-width="1" fill="none"/><text x="29.7" y="58.10" text-anchor="end" style="font-family:'Liberation Sans',Arial,Helvetica,sans-serif;font-size:11.8px">40</text><text x="29.7" y="83.10" text-anchor="end" style="font-family:'Liberation Sans',Arial,Helvetica,sans-serif;font-size:11.8px">20</text><text x="29.7" y="108.10" text-anchor="end" style="font-family:'Liberation Sans',Arial,Helvetica,sans-serif;font-size:11.8px">0</text><text x="29.7" y="133.10" text-anchor="end" style="font-family:'Liberation Sans',Arial,Helvetica,sans-serif;font-size:11.8px">-20</text><text x="29.7" y="158.10" text-anchor="end" style="font-family:'Liberation Sans',Arial,Helvetica,sans-serif;font-size:11.8px">-40</text><text transform="translate(10.0,103.5) rotate(-90)" text-anchor="middle" style="font-family:'Liberation Sans',Arial,Helvetica,sans-serif;font-size:11.8px">Relative Velocity (m/s)</text><g clip-path="url(#cp0)"><g transform="rotate(-30 151.60 103.80)" filter="url(#nf0)"><g transform="rotate(30 151.60 103.80)"><rect x="81.40" y="33.30" width="140.40" height="141.00" fill="url(#pt0)"/><rect x="81.40" y="33.30" width="140.40" height="141.00" fill="url(#pb0)" mask="url(#mk)"/></g></g><ellipse cx="200.0" cy="50.0" rx="4.0" ry="20.0" fill="url(#bd)" opacity="0.35"/><ellipse cx="99.0" cy="150.0" rx="5.0" ry="25.0" fill="url(#bd)" opacity="0.30"/><ellipse cx="162.5" cy="104.0" rx="4.5" ry="95.0" fill="url(#bd)" opacity="0.50"/><path d="M195.4,96.6 L205.1,108.4" stroke="#111" stroke-width="1.4" stroke-linecap="round"/><ellipse cx="205.4" cy="111.6" rx="1.2" ry="1.6" fill="#eee"/><ellipse cx="112.6" cy="93" rx="1.3" ry="1.9" fill="#2a2a2a"/><circle cx="109.3" cy="93.8" r="1.2" fill="#eee"/><circle cx="210.5" cy="170.4" r="1.5" fill="#111"/></g><rect x="81.40" y="33.30" width="140.40" height="141.00" fill="none" stroke="#000" stroke-width="1.1"/><path d="M81.40,33.30V28.80 M101.46,33.30V30.70 M121.51,33.30V28.80 M141.57,33.30V30.70 M161.63,33.30V28.80 M181.69,33.30V30.70 M201.74,33.30V28.80 M221.80,33.30V30.70 M81.40,33.30H76.90 M81.40,53.36H78.80 M81.40,73.41H76.90 M81.40,93.47H78.80 M81.40,113.53H76.90 M81.40,133.59H78.80 M81.40,153.64H76.90 M81.40,173.70H78.80" stroke="#000" stroke-width="1" fill="none"/><text x="81.40" y="25.6" text-anchor="middle" style="font-family:'Liberation Sans',Arial,Helvetica,sans-serif;font-size:11.8px">0</text><text x="121.51" y="25.6" text-anchor="middle" style="font-family:'Liberation Sans',Arial,Helvetica,sans-serif;font-size:11.8px">100</text><text x="161.63" y="25.6" text-anchor="middle" style="font-family:'Liberation Sans',Arial,Helvetica,sans-serif;font-size:11.8px">200</text><text x="201.74" y="25.6" text-anchor="middle" style="font-family:'Liberation Sans',Arial,Helvetica,sans-serif;font-size:11.8px">300</text><text x="151.90" y="9.8" text-anchor="middle" style="font-family:'Liberation Sans',Arial,Helvetica,sans-serif;font-size:12px">Position (μm)</text><text x="81.80" y="10.0" text-anchor="middle" style="font-family:'Liberation Sans',Arial,Helvetica,sans-serif;font-size:11.8px">(a)</text><text transform="translate(73.4,33.30) rotate(-90)" text-anchor="middle" style="font-family:'Liberation Sans',Arial,Helvetica,sans-serif;font-size:11.8px">0</text><text transform="translate(73.4,73.41) rotate(-90)" text-anchor="middle" style="font-family:'Liberation Sans',Arial,Helvetica,sans-serif;font-size:11.8px">100</text><text transform="translate(73.4,113.53) rotate(-90)" text-anchor="middle" style="font-family:'Liberation Sans',Arial,Helvetica,sans-serif;font-size:11.8px">200</text><text transform="translate(73.4,153.64) rotate(-90)" text-anchor="middle" style="font-family:'Liberation Sans',Arial,Helvetica,sans-serif;font-size:11.8px">300</text><text transform="translate(59.2,104.2) rotate(-90)" text-anchor="middle" style="font-family:'Liberation Sans',Arial,Helvetica,sans-serif;font-size:12px">Position (μm)</text><path d="M81.40,182.30V216.40H221.80 M81.40,216.40V223.20 M101.46,216.40V220.20 M121.51,216.40V223.20 M141.57,216.40V220.20 M161.63,216.40V223.20 M181.69,216.40V220.20 M201.74,216.40V223.20 M221.80,216.40V220.20 M81.40,185.40H78.00 M81.40,191.50H79.50 M81.40,197.60H78.00 M81.40,203.70H79.50 M81.40,209.80H78.00" stroke="#000" stroke-width="1" fill="none"/><text x="81.40" y="238.2" text-anchor="middle" style="font-family:'Liberation Sans',Arial,Helvetica,sans-serif;font-size:11.8px">0</text><text x="121.51" y="238.2" text-anchor="middle" style="font-family:'Liberation Sans',Arial,Helvetica,sans-serif;font-size:11.8px">100</text><text x="161.63" y="238.2" text-anchor="middle" style="font-family:'Liberation Sans',Arial,Helvetica,sans-serif;font-size:11.8px">200</text><text x="201.74" y="238.2" text-anchor="middle" style="font-family:'Liberation Sans',Arial,Helvetica,sans-serif;font-size:11.8px">300</text><text x="151.90" y="250.0" text-anchor="middle" style="font-family:'Liberation Sans',Arial,Helvetica,sans-serif;font-size:12px">Position (μm)</text><text x="76.2" y="188.60" text-anchor="end" style="font-family:'Liberation Sans',Arial,Helvetica,sans-serif;font-size:11.8px">40</text><text x="76.2" y="200.80" text-anchor="end" style="font-family:'Liberation Sans',Arial,Helvetica,sans-serif;font-size:11.8px">0</text><text x="76.2" y="213.00" text-anchor="end" style="font-family:'Liberation Sans',Arial,Helvetica,sans-serif;font-size:11.8px">-40</text><path d="M81.40,197.20 C82.17,197.27 84.65,197.17 86.00,197.60 C87.35,198.03 88.33,199.50 89.50,199.80 C90.67,200.10 91.75,199.50 93.00,199.40 C94.25,199.30 95.67,199.50 97.00,199.20 C98.33,198.90 99.50,197.93 101.00,197.60 C102.50,197.27 103.17,197.27 106.00,197.20 C108.83,197.13 114.83,197.13 118.00,197.20 C121.17,197.27 123.00,197.37 125.00,197.60 C127.00,197.83 126.05,198.43 130.00,198.60 C133.95,198.77 144.53,198.87 148.70,198.60 C152.87,198.33 153.03,197.47 155.00,197.00 C156.97,196.53 158.17,196.07 160.50,195.80 C162.83,195.53 166.42,195.33 169.00,195.40 C171.58,195.47 173.33,195.90 176.00,196.20 C178.67,196.50 180.53,197.03 185.00,197.20 C189.47,197.37 199.05,196.87 202.80,197.20 C206.55,197.53 204.33,198.88 207.50,199.20 C210.67,199.52 219.42,199.12 221.80,199.10" stroke="#878b8d" stroke-width="1.8" stroke-dasharray="3.2 3.2" fill="none"/><path d="M81.40,198.60 C81.77,197.97 82.85,195.75 83.60,194.80 C84.35,193.85 85.12,193.30 85.90,192.90 C86.68,192.50 87.50,192.28 88.30,192.40 C89.10,192.52 89.92,192.87 90.70,193.60 C91.48,194.33 92.22,195.57 93.00,196.80 C93.78,198.03 94.60,199.72 95.40,201.00 C96.20,202.28 97.12,203.72 97.80,204.50 C98.48,205.28 98.82,205.70 99.50,205.70 C100.18,205.70 101.00,205.28 101.90,204.50 C102.80,203.72 103.92,202.22 104.90,201.00 C105.88,199.78 107.02,198.03 107.80,197.20 C108.58,196.37 108.90,196.07 109.60,196.00 C110.30,195.93 111.20,196.47 112.00,196.80 C112.80,197.13 113.62,197.30 114.40,198.00 C115.18,198.70 115.92,199.72 116.70,201.00 C117.48,202.28 118.40,204.78 119.10,205.70 C119.80,206.62 120.30,206.70 120.90,206.50 C121.50,206.30 122.02,205.75 122.70,204.50 C123.38,203.25 124.22,200.82 125.00,199.00 C125.78,197.18 126.62,195.02 127.40,193.60 C128.18,192.18 128.92,191.08 129.70,190.50 C130.48,189.92 131.30,189.98 132.10,190.10 C132.90,190.22 133.72,190.58 134.50,191.20 C135.28,191.82 136.02,192.87 136.80,193.80 C137.58,194.73 138.30,196.00 139.20,196.80 C140.10,197.60 141.22,198.60 142.20,198.60 C143.18,198.60 144.12,197.68 145.10,196.80 C146.08,195.92 147.20,194.15 148.10,193.30 C149.00,192.45 149.72,191.62 150.50,191.70 C151.28,191.78 152.02,192.65 152.80,193.80 C153.58,194.95 154.40,196.82 155.20,198.60 C156.00,200.38 156.80,202.67 157.60,204.50 C158.40,206.33 159.22,208.38 160.00,209.60 C160.78,210.82 161.52,211.85 162.30,211.80 C163.08,211.75 163.90,210.92 164.70,209.30 C165.50,207.68 166.32,204.18 167.10,202.10 C167.88,200.02 168.58,197.98 169.40,196.80 C170.22,195.62 170.97,195.20 172.00,195.00 C173.03,194.80 174.42,195.20 175.60,195.60 C176.78,196.00 178.12,197.20 179.10,197.40 C180.08,197.60 180.52,197.68 181.50,196.80 C182.48,195.92 183.82,193.68 185.00,192.10 C186.18,190.52 187.52,188.23 188.60,187.30 C189.68,186.37 190.62,186.30 191.50,186.50 C192.38,186.70 193.00,186.88 193.90,188.50 C194.80,190.12 195.92,193.93 196.90,196.20 C197.88,198.47 198.92,200.72 199.80,202.10 C200.68,203.48 201.40,204.68 202.20,204.50 C203.00,204.32 203.72,202.58 204.60,201.00 C205.48,199.42 206.52,196.58 207.50,195.00 C208.48,193.42 209.50,192.28 210.50,191.50 C211.50,190.72 212.52,190.00 213.50,190.30 C214.48,190.60 215.42,191.92 216.40,193.30 C217.38,194.68 218.50,197.32 219.40,198.60 C220.30,199.88 221.40,200.60 221.80,201.00" stroke="#d80f22" stroke-width="2.45" fill="none" stroke-linejoin="round"/><g clip-path="url(#cp1)"><g transform="rotate(0 299.70 103.80)" filter="url(#nf1)"><g transform="rotate(0 299.70 103.80)"><rect x="229.50" y="33.30" width="140.40" height="141.00" fill="url(#pt1)"/><rect x="229.50" y="33.30" width="140.40" height="141.00" fill="url(#pb1)" mask="url(#mk)"/></g></g><ellipse cx="260.0" cy="112.0" rx="10.0" ry="42.0" fill="url(#bd)" opacity="0.65"/><ellipse cx="300.0" cy="108.0" rx="10.0" ry="42.0" fill="url(#bd)" opacity="0.60"/><ellipse cx="340.0" cy="47.0" rx="6.0" ry="22.0" fill="url(#bd)" opacity="0.55"/><ellipse cx="340.0" cy="120.0" rx="5.0" ry="35.0" fill="url(#bd)" opacity="0.30"/><ellipse cx="243.0" cy="60.0" rx="9.0" ry="25.0" fill="url(#bl)" opacity="0.30"/><ellipse cx="280.0" cy="52.0" rx="12.0" ry="25.0" fill="url(#bl)" opacity="0.35"/><ellipse cx="318.0" cy="52.0" rx="12.0" ry="25.0" fill="url(#bl)" opacity="0.30"/><ellipse cx="243.0" cy="150.0" rx="10.0" ry="25.0" fill="url(#bl)" opacity="0.35"/><ellipse cx="360.0" cy="150.0" rx="10.0" ry="25.0" fill="url(#bl)" opacity="0.35"/><path d="M296.3,66 Q303,71.5 310.5,81.9" stroke="#333" stroke-width="0.9" fill="none"/><circle cx="311.3" cy="80.3" r="1.1" fill="#f4f4f4"/><circle cx="310.6" cy="89" r="1.2" fill="#f4f4f4"/><ellipse cx="341" cy="171" rx="4.5" ry="4.5" fill="#0c0c0c"/><circle cx="342" cy="169.6" r="0.9" fill="#ddd"/></g><rect x="229.50" y="33.30" width="140.40" height="141.00" fill="none" stroke="#000" stroke-width="1.1"/><path d="M229.50,33.30V28.80 M249.56,33.30V30.70 M269.61,33.30V28.80 M289.67,33.30V30.70 M309.73,33.30V28.80 M329.79,33.30V30.70 M349.84,33.30V28.80 M369.90,33.30V30.70" stroke="#000" stroke-width="1" fill="none"/><text x="229.50" y="24.1" text-anchor="middle" style="font-family:'Liberation Sans',Arial,Helvetica,sans-serif;font-size:11.8px">0</text><text x="269.61" y="24.1" text-anchor="middle" style="font-family:'Liberation Sans',Arial,Helvetica,sans-serif;font-size:11.8px">100</text><text x="309.73" y="24.1" text-anchor="middle" style="font-family:'Liberation Sans',Arial,Helvetica,sans-serif;font-size:11.8px">200</text><text x="349.84" y="24.1" text-anchor="middle" style="font-family:'Liberation Sans',Arial,Helvetica,sans-serif;font-size:11.8px">300</text><text x="300.00" y="9.8" text-anchor="middle" style="font-family:'Liberation Sans',Arial,Helvetica,sans-serif;font-size:12px">Position (μm)</text><text x="229.20" y="10.0" text-anchor="middle" style="font-family:'Liberation Sans',Arial,Helvetica,sans-serif;font-size:11.8px">(b)</text><path d="M229.50,182.30V216.40H369.90 M229.50,216.40V223.20 M249.56,216.40V220.20 M269.61,216.40V223.20 M289.67,216.40V220.20 M309.73,216.40V223.20 M329.79,216.40V220.20 M349.84,216.40V223.20 M369.90,216.40V220.20" stroke="#000" stroke-width="1" fill="none"/><text x="229.50" y="238.2" text-anchor="middle" style="font-family:'Liberation Sans',Arial,Helvetica,sans-serif;font-size:11.8px">0</text><text x="269.61" y="238.2" text-anchor="middle" style="font-family:'Liberation Sans',Arial,Helvetica,sans-serif;font-size:11.8px">100</text><text x="309.73" y="238.2" text-anchor="middle" style="font-family:'Liberation Sans',Arial,Helvetica,sans-serif;font-size:11.8px">200</text><text x="349.84" y="238.2" text-anchor="middle" style="font-family:'Liberation Sans',Arial,Helvetica,sans-serif;font-size:11.8px">300</text><text x="300.00" y="250.0" text-anchor="middle" style="font-family:'Liberation Sans',Arial,Helvetica,sans-serif;font-size:12px">Position (μm)</text><path d="M229.80,197.50 C231.08,197.78 234.83,198.92 237.50,199.20 C240.17,199.48 243.38,199.33 245.80,199.20 C248.22,199.07 250.03,198.70 252.00,198.40 C253.97,198.10 253.90,197.57 257.60,197.40 C261.30,197.23 270.58,197.20 274.20,197.40 C277.82,197.60 275.38,198.30 279.30,198.60 C283.22,198.90 293.85,199.40 297.70,199.20 C301.55,199.00 298.68,197.73 302.40,197.40 C306.12,197.07 316.08,197.30 320.00,197.20 C323.92,197.10 321.95,196.87 325.90,196.80 C329.85,196.73 339.68,196.63 343.70,196.80 C347.72,196.97 348.03,197.50 350.00,197.80 C351.97,198.10 353.98,198.43 355.50,198.60 C357.02,198.77 357.12,198.50 359.10,198.80 C361.08,199.10 365.62,200.13 367.40,200.40 C369.18,200.67 369.40,200.40 369.80,200.40" stroke="#878b8d" stroke-width="1.8" stroke-dasharray="3.2 3.2" fill="none"/><path d="M229.80,196.80 C230.28,196.55 231.72,195.30 232.70,195.30 C233.68,195.30 234.70,196.15 235.70,196.80 C236.70,197.45 237.72,199.50 238.70,199.20 C239.68,198.90 240.52,196.45 241.60,195.00 C242.68,193.55 244.12,191.13 245.20,190.50 C246.28,189.87 247.22,190.65 248.10,191.20 C248.98,191.75 249.70,192.37 250.50,193.80 C251.30,195.23 252.02,197.92 252.90,199.80 C253.78,201.68 254.82,203.77 255.80,205.10 C256.78,206.43 257.80,207.60 258.80,207.80 C259.80,208.00 260.82,207.63 261.80,206.30 C262.78,204.97 263.72,201.63 264.70,199.80 C265.68,197.97 266.70,196.30 267.70,195.30 C268.70,194.30 269.72,194.33 270.70,193.80 C271.68,193.27 272.63,191.90 273.60,192.10 C274.57,192.30 275.65,194.02 276.50,195.00 C277.35,195.98 277.93,198.20 278.70,198.00 C279.47,197.80 280.30,195.08 281.10,193.80 C281.90,192.52 282.72,191.08 283.50,190.30 C284.28,189.52 284.92,189.00 285.80,189.10 C286.68,189.20 287.80,189.92 288.80,190.90 C289.80,191.88 290.82,193.03 291.80,195.00 C292.78,196.97 293.72,200.52 294.70,202.70 C295.68,204.88 296.90,206.97 297.70,208.10 C298.50,209.23 298.82,209.60 299.50,209.50 C300.18,209.40 300.92,208.92 301.80,207.50 C302.68,206.08 303.80,203.08 304.80,201.00 C305.80,198.92 306.82,196.43 307.80,195.00 C308.78,193.57 309.62,192.68 310.70,192.40 C311.78,192.12 313.22,192.57 314.30,193.30 C315.38,194.03 316.28,195.97 317.20,196.80 C318.12,197.63 318.97,198.55 319.80,198.30 C320.63,198.05 321.28,196.43 322.20,195.30 C323.12,194.17 324.28,192.33 325.30,191.50 C326.32,190.67 327.40,190.10 328.30,190.30 C329.20,190.50 329.92,191.42 330.70,192.70 C331.48,193.98 332.12,195.83 333.00,198.00 C333.88,200.17 335.00,203.63 336.00,205.70 C337.00,207.77 338.22,209.52 339.00,210.40 C339.78,211.28 340.02,211.38 340.70,211.00 C341.38,210.62 342.20,209.77 343.10,208.10 C344.00,206.43 345.12,202.98 346.10,201.00 C347.08,199.02 348.02,197.30 349.00,196.20 C349.98,195.10 351.00,194.50 352.00,194.40 C353.00,194.30 354.02,194.90 355.00,195.60 C355.98,196.30 356.92,197.80 357.90,198.60 C358.88,199.40 359.92,200.40 360.90,200.40 C361.88,200.40 362.82,199.70 363.80,198.60 C364.78,197.50 365.80,195.08 366.80,193.80 C367.80,192.52 369.30,191.38 369.80,190.90" stroke="#d80f22" stroke-width="2.45" fill="none" stroke-linejoin="round"/><g clip-path="url(#cp2)"><g transform="rotate(0 447.70 103.80)" filter="url(#nf2)"><g transform="rotate(0 447.70 103.80)"><rect x="377.50" y="33.30" width="140.40" height="141.00" fill="url(#pt2)"/><rect x="377.50" y="33.30" width="140.40" height="141.00" fill="url(#pb2)" mask="url(#mk)"/></g></g><ellipse cx="398.6" cy="86.7" rx="4.0" ry="6.0" fill="url(#bd)" opacity="0.35"/><ellipse cx="441.0" cy="92.0" rx="4.0" ry="5.0" fill="url(#bd)" opacity="0.40"/><ellipse cx="443.5" cy="151.6" rx="4.0" ry="5.0" fill="url(#bd)" opacity="0.45"/><ellipse cx="480.5" cy="56.0" rx="4.0" ry="5.0" fill="url(#bd)" opacity="0.40"/><ellipse cx="480.5" cy="72.5" rx="3.0" ry="4.0" fill="url(#bd)" opacity="0.35"/><ellipse cx="398.0" cy="135.0" rx="4.0" ry="6.0" fill="url(#bd)" opacity="0.30"/></g><rect x="377.50" y="33.30" width="140.40" height="141.00" fill="none" stroke="#000" stroke-width="1.1"/><path d="M377.50,33.30V28.80 M397.56,33.30V30.70 M417.61,33.30V28.80 M437.67,33.30V30.70 M457.73,33.30V28.80 M477.79,33.30V30.70 M497.84,33.30V28.80 M517.90,33.30V30.70" stroke="#000" stroke-width="1" fill="none"/><text x="377.50" y="24.1" text-anchor="middle" style="font-family:'Liberation Sans',Arial,Helvetica,sans-serif;font-size:11.8px">0</text><text x="417.61" y="24.1" text-anchor="middle" style="font-family:'Liberation Sans',Arial,Helvetica,sans-serif;font-size:11.8px">100</text><text x="457.73" y="24.1" text-anchor="middle" style="font-family:'Liberation Sans',Arial,Helvetica,sans-serif;font-size:11.8px">200</text><text x="497.84" y="24.1" text-anchor="middle" style="font-family:'Liberation Sans',Arial,Helvetica,sans-serif;font-size:11.8px">300</text><text x="448.00" y="9.8" text-anchor="middle" style="font-family:'Liberation Sans',Arial,Helvetica,sans-serif;font-size:12px">Position (μm)</text><text x="378.40" y="10.0" text-anchor="middle" style="font-family:'Liberation Sans',Arial,Helvetica,sans-serif;font-size:11.8px">(c)</text><path d="M377.50,182.30V216.40H517.90 M377.50,216.40V223.20 M397.56,216.40V220.20 M417.61,216.40V223.20 M437.67,216.40V220.20 M457.73,216.40V223.20 M477.79,216.40V220.20 M497.84,216.40V223.20 M517.90,216.40V220.20" stroke="#000" stroke-width="1" fill="none"/><text x="377.50" y="238.2" text-anchor="middle" style="font-family:'Liberation Sans',Arial,Helvetica,sans-serif;font-size:11.8px">0</text><text x="417.61" y="238.2" text-anchor="middle" style="font-family:'Liberation Sans',Arial,Helvetica,sans-serif;font-size:11.8px">100</text><text x="457.73" y="238.2" text-anchor="middle" style="font-family:'Liberation Sans',Arial,Helvetica,sans-serif;font-size:11.8px">200</text><text x="497.84" y="238.2" text-anchor="middle" style="font-family:'Liberation Sans',Arial,Helvetica,sans-serif;font-size:11.8px">300</text><text x="448.00" y="250.0" text-anchor="middle" style="font-family:'Liberation Sans',Arial,Helvetica,sans-serif;font-size:12px">Position (μm)</text><path d="M377.80,195.00 C378.33,195.42 379.82,196.60 381.00,197.50 C382.18,198.40 383.40,200.15 384.90,200.40 C386.40,200.65 387.93,199.53 390.00,199.00 C392.07,198.47 394.50,197.50 397.30,197.20 C400.10,196.90 404.35,197.17 406.80,197.20 C409.25,197.23 409.83,197.40 412.00,197.40 C414.17,197.40 417.50,197.37 419.80,197.20 C422.10,197.03 424.43,196.35 425.80,196.40 C427.17,196.45 426.63,197.13 428.00,197.50 C429.37,197.87 430.67,198.32 434.00,198.60 C437.33,198.88 445.00,199.30 448.00,199.20 C451.00,199.10 450.42,198.60 452.00,198.00 C453.58,197.40 454.60,196.00 457.50,195.60 C460.40,195.20 466.48,195.40 469.40,195.60 C472.32,195.80 470.30,196.60 475.00,196.80 C479.70,197.00 493.03,196.40 497.60,196.80 C502.17,197.20 499.03,198.60 502.40,199.20 C505.77,199.80 515.23,200.20 517.80,200.40" stroke="#878b8d" stroke-width="1.8" stroke-dasharray="3.2 3.2" fill="none"/><path d="M377.80,190.50 C378.28,190.82 379.62,191.88 380.70,192.40 C381.78,192.92 383.20,193.17 384.30,193.60 C385.40,194.03 386.32,194.27 387.30,195.00 C388.28,195.73 389.12,196.92 390.20,198.00 C391.28,199.08 392.62,200.52 393.80,201.50 C394.98,202.48 396.12,203.37 397.30,203.90 C398.48,204.43 399.72,204.63 400.90,204.70 C402.08,204.77 403.32,204.73 404.40,204.30 C405.48,203.87 406.40,203.05 407.40,202.10 C408.40,201.15 409.42,199.68 410.40,198.60 C411.38,197.52 412.32,196.55 413.30,195.60 C414.28,194.65 415.22,193.63 416.30,192.90 C417.38,192.17 418.72,191.53 419.80,191.20 C420.88,190.87 421.82,190.65 422.80,190.90 C423.78,191.15 424.65,191.82 425.70,192.70 C426.75,193.58 427.93,194.73 429.10,196.20 C430.27,197.67 431.52,199.95 432.70,201.50 C433.88,203.05 435.02,204.57 436.20,205.50 C437.38,206.43 438.82,206.82 439.80,207.10 C440.78,207.38 441.22,207.43 442.10,207.20 C442.98,206.97 444.10,206.55 445.10,205.70 C446.10,204.85 447.02,203.48 448.10,202.10 C449.18,200.72 450.42,198.78 451.60,197.40 C452.78,196.02 454.02,194.68 455.20,193.80 C456.38,192.92 457.52,192.45 458.70,192.10 C459.88,191.75 461.12,191.77 462.30,191.70 C463.48,191.63 464.78,191.58 465.80,191.70 C466.82,191.82 467.42,191.90 468.40,192.40 C469.38,192.90 470.58,193.47 471.70,194.70 C472.82,195.93 473.93,198.17 475.10,199.80 C476.27,201.43 477.52,203.38 478.70,204.50 C479.88,205.62 481.12,206.20 482.20,206.50 C483.28,206.80 484.22,206.73 485.20,206.30 C486.18,205.87 487.02,205.18 488.10,203.90 C489.18,202.62 490.50,200.28 491.70,198.60 C492.90,196.92 494.12,194.98 495.30,193.80 C496.48,192.62 497.62,192.12 498.80,191.50 C499.98,190.88 501.22,190.53 502.40,190.10 C503.58,189.67 504.82,189.17 505.90,188.90 C506.98,188.63 507.92,188.30 508.90,188.50 C509.88,188.70 510.82,189.30 511.80,190.10 C512.78,190.90 513.80,192.18 514.80,193.30 C515.80,194.42 517.30,196.22 517.80,196.80" stroke="#d80f22" stroke-width="2.45" fill="none" stroke-linejoin="round"/><text transform="translate(50.1,209.5) rotate(-90)" text-anchor="middle" style="font-family:'Liberation Sans',Arial,Helvetica,sans-serif;font-size:11.6px"><tspan x="0" y="-12.5">Relative</tspan><tspan x="0" y="0">Velocity (m/s)</tspan></text></svg></body></html>
